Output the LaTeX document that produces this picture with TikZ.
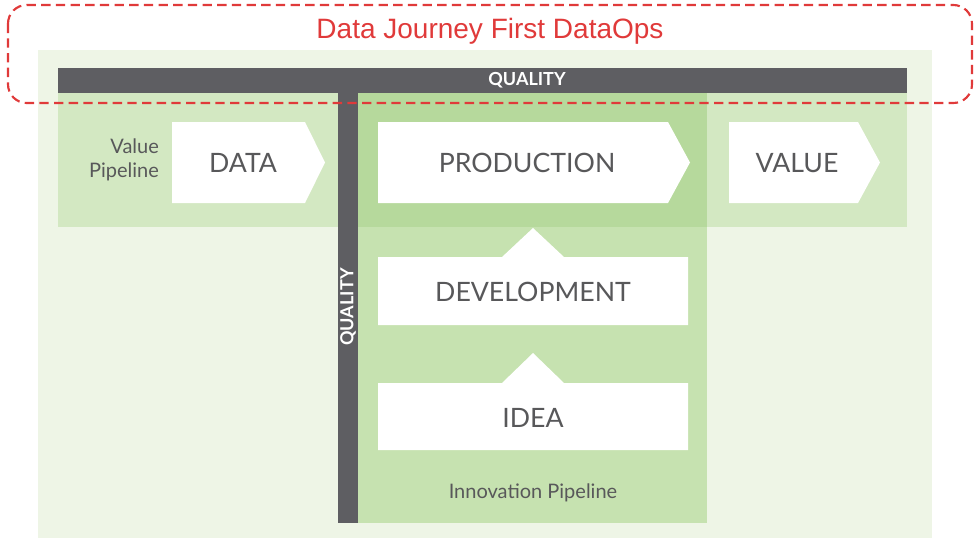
\documentclass[tikz,border=0pt]{standalone}
\usepackage{fontspec}
\setmainfont{Lato}
\newfontfamily\titlefont{Liberation Sans}
\definecolor{bgg}{HTML}{EEF5E6}
\definecolor{valg}{HTML}{D3E8C2}
\definecolor{invg}{HTML}{C6E2B0}
\definecolor{prodg}{HTML}{B6D99C}
\definecolor{qbar}{HTML}{5E5E62}
\definecolor{txt}{HTML}{58585A}
\definecolor{redd}{HTML}{E03A3A}
\tikzset{lbl/.style={text=txt,font=\fontsize{20}{24}\selectfont},
 qlbl/.style={text=white,font=\bfseries\fontsize{13.5}{15}\selectfont},
 small/.style={text=txt,font=\fontsize{15}{18}\selectfont,align=right}}
\begin{document}
\begin{tikzpicture}[x=0.75pt,y=-0.75pt]
\useasboundingbox (0,0) rectangle (980,546);
\fill[bgg] (38,50) rectangle (932,538);
\fill[valg] (58,93) rectangle (907,227);
\fill[invg] (358,93) rectangle (707,523);
\fill[prodg] (358,93) rectangle (707,227);
% arrows
\fill[white] (172,122) -- (305,122) -- (325,162.5) -- (305,203) -- (172,203) -- cycle;
\fill[white] (378,122) -- (668,122) -- (690,162.5) -- (668,203) -- (378,203) -- cycle;
\fill[white] (729,122) -- (858,122) -- (880,162.5) -- (858,203) -- (729,203) -- cycle;
\fill[white] (378,257) -- (502,257) -- (533,228) -- (564,257) -- (688,257) -- (688,325) -- (378,325) -- cycle;
\fill[white] (378,383) -- (502,383) -- (533,353) -- (564,383) -- (688,383) -- (688,450) -- (378,450) -- cycle;
\node[lbl] (data) at (243,163) {DATA};
\node[lbl] (prod) at (527,163) {PRODUCTION};
\node[lbl] (value) at (797,163) {VALUE};
\node[lbl] (dev) at (533,292) {DEVELOPMENT};
\node[lbl] (idea) at (533,418) {IDEA};
\node[small] (vp) at (124,160) {Value\\Pipeline};
\node[small] (ip) at (533,493) {Innovation Pipeline};
% quality bars
\fill[qbar] (58,68) rectangle (907,93);
\fill[qbar] (338,93) rectangle (358,523);
\node[qlbl] (q1) at (527,80.5) {QUALITY};
\node[qlbl,rotate=90] (q2) at (348,307) {QUALITY};
% red dashed frame
\draw[redd,line width=1.6pt,dash pattern=on 7pt off 4pt,rounded corners=14pt] (8,5) rectangle (972,103);
\node[text=redd,font=\titlefont\fontsize{21}{24}\selectfont] (title) at (490,31) {Data Journey First DataOps};
\end{tikzpicture}
\end{document}
